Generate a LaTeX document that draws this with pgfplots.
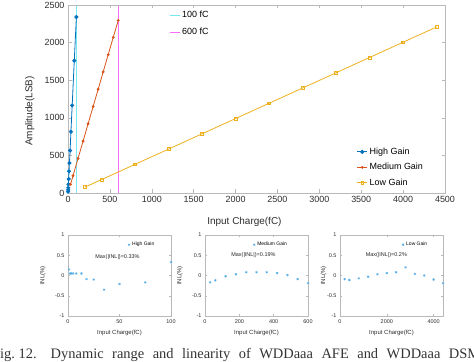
\documentclass[border=0pt]{standalone}
\usepackage{fontspec}
\setmainfont{Liberation Sans}
\newfontfamily\capfont{Liberation Serif}
\usepackage{pgfplots}
\pgfplotsset{compat=1.18}
\definecolor{mblue}{RGB}{0,114,189}
\definecolor{mred}{RGB}{217,83,25}
\definecolor{myel}{RGB}{237,177,32}
\definecolor{mcyan}{RGB}{120,232,242}
\definecolor{mmag}{RGB}{250,110,250}
\definecolor{inlc}{RGB}{77,170,230}
\definecolor{axgray}{RGB}{185,185,185}
\definecolor{tickc}{RGB}{45,45,45}
\pgfplotsset{
  lineleg/.style={legend image code/.code={\draw[mark repeat=2,mark phase=2,##1] plot coordinates {(0bp,0bp)(5bp,0bp)(10bp,0bp)};}},
  inl/.style={scale only axis, width=103bp, height=81bp, ymin=-1, ymax=1,
    ytick={-1,-0.5,0,0.5,1}, yticklabels={-1,-0.5,0,0.5,1},
    axis line style={axgray}, tick style={axgray, line width=0.4pt}, tick align=inside,
    major tick length=2bp,
    ticklabel style={font=\fontsize{5.5}{6}\selectfont, color=tickc},
    /pgf/number format/assume math mode=true, /pgf/number format/1000 sep={},
    xlabel={Input Charge(fC)}, ylabel={INL(\%)},
    label style={font=\fontsize{6}{7}\selectfont, color=tickc},
    xlabel style={at={(axis description cs:0.5,-0.21)}, anchor=center},
    legend style={draw=none, fill=none, font=\fontsize{5}{6}\selectfont, inner sep=0.5bp},
    legend image code/.code={\draw[##1] plot coordinates {(3bp,0bp)};},
  },
  inlmark/.style={only marks, mark=asterisk, mark size=1.3bp, color=inlc, line width=0.4pt},
}
\begin{document}
\begin{tikzpicture}[x=1bp,y=1bp]
% ---- vertical reference lines (own legend)
\begin{axis}[at={(68bp,169bp)}, anchor=south west, scale only axis, width=377bp, height=188bp,
  xmin=0, xmax=4500, ymin=0, ymax=2500, hide axis, lineleg,
  legend style={at={(0.265,0.984)}, anchor=north west, draw=none, fill=white,
    font=\fontsize{9}{10}\selectfont, row sep=5bp, inner sep=1bp},
  legend cell align=left]
\addplot[mcyan, line width=1.1pt] coordinates {(100,0) (100,2500)};
\addplot[mmag, line width=1.1pt] coordinates {(600,0) (600,2500)};
\legend{100 fC, 600 fC}
\end{axis}
% ---- main axis
\begin{axis}[at={(68bp,169bp)}, anchor=south west, scale only axis, width=377bp, height=188bp,
  xmin=0, xmax=4500, ymin=0, ymax=2500,
  xtick={0,500,...,4500}, ytick={0,500,...,2500},
  axis line style={axgray}, tick style={axgray, line width=0.4pt}, tick align=inside,
  major tick length=3.5bp,
  ticklabel style={font=\fontsize{9}{10}\selectfont, color=tickc},
  /pgf/number format/assume math mode=true, /pgf/number format/1000 sep={},
  xlabel={Input Charge(fC)}, ylabel={Amplitude(LSB)},
  label style={font=\fontsize{10}{11}\selectfont, color=tickc},
  xlabel style={at={(axis description cs:0.468,-0.154)}, anchor=center},
  ylabel style={at={(axis description cs:-0.101,0.436)}, anchor=center, rotate=0},
  lineleg,
  legend style={at={(0.95,0.016)}, anchor=south east, draw=none, fill=white,
    font=\fontsize{9}{10}\selectfont, row sep=3.5bp, inner sep=1bp},
  legend cell align=left]
\addplot[mblue, line width=0.8pt, mark=*, mark size=1.6bp] coordinates {
(1,17) (2,40) (3,70) (5,116) (8,186) (12,290) (17,398) (25,565) (35,815) (50,1165) (75,1760) (100,2340)};
\addplot[mred, line width=0.8pt, mark=*, mark size=1bp] coordinates {
(30,115) (60,230) (120,460) (180,690) (240,920) (300,1150) (360,1380) (420,1610) (480,1840) (540,2070) (600,2295)};
\addplot[myel, line width=0.8pt, mark=square, mark size=1.4bp, mark options={line width=0.6pt}] coordinates {
(200,78) (400,178) (800,381) (1200,584) (1600,787) (2000,990) (2400,1193) (2800,1396) (3200,1599) (3600,1802) (4000,2005) (4400,2208)};
\legend{High Gain, Medium Gain, Low Gain}
\end{axis}
% ---- INL high gain
\begin{axis}[inl, at={(68bp,46bp)}, anchor=south west, xmin=0, xmax=100, xtick={0,50,100},
  ylabel style={at={(axis description cs:-0.245,0.5)}, anchor=center},
  legend style={at={(0.575,0.945)}, anchor=north west}]
\addplot[inlmark] coordinates {
(1,0.15) (2,0.05) (3,0.05) (5,0.05) (8,0.05) (13,0.05) (18,-0.09) (25,-0.1) (35,-0.35) (50,-0.21) (75,-0.17) (100,0.33)};
\legend{High Gain}
\node[font=\fontsize{5.5}{6}\selectfont, color=black!85] at (axis description cs:0.48,0.73) {Max(|INL|)=0.33\%};
\end{axis}
% ---- INL medium gain
\begin{axis}[inl, at={(205bp,46bp)}, anchor=south west, xmin=0, xmax=600, xtick={0,200,400,600},
  ylabel style={at={(axis description cs:-0.245,0.5)}, anchor=center},
  legend style={at={(0.46,0.945)}, anchor=north west}]
\addplot[inlmark] coordinates {
(30,-0.17) (60,-0.12) (120,-0.02) (180,0.03) (240,0.08) (300,0.08) (360,0.08) (420,0.06) (480,0.01) (540,-0.09) (600,-0.19)};
\legend{Medium Gain}
\node[font=\fontsize{5.5}{6}\selectfont, color=black!85] at (axis description cs:0.47,0.75) {Max(|INL|)=0.19\%};
\end{axis}
% ---- INL low gain
\begin{axis}[inl, at={(340bp,46bp)}, anchor=south west, xmin=0, xmax=4400, xtick={0,2000,4000},
  ylabel style={at={(axis description cs:-0.16,0.5)}, anchor=center},
  legend style={at={(0.595,0.945)}, anchor=north west}]
\addplot[inlmark] coordinates {
(200,-0.09) (400,-0.11) (800,-0.07) (1200,-0.03) (1600,0.03) (2000,0.06) (2400,0.08) (2800,0.2) (3200,0.04) (3600,0.0) (4000,-0.1) (4400,-0.19)};
\legend{Low Gain}
\node[font=\fontsize{5.5}{6}\selectfont, color=black!85] at (axis description cs:0.45,0.75) {Max(|INL|)=0.2\%};
\end{axis}
% ---- caption (cut by the page edges, as in the reference)
\node[anchor=base west, inner sep=0pt, font=\capfont\fontsize{14.5}{16}\selectfont, color=black!80] at (-8bp,4bp)
  {Fig.~12.\hspace{14bp}Dynamic\hspace{8.5bp}range\hspace{8.5bp}and\hspace{8.5bp}linearity\hspace{8.5bp}of\hspace{8.5bp}WDDaaa\hspace{8.5bp}AFE\hspace{8.5bp}and\hspace{8.5bp}WDDaaa\hspace{8.5bp}DSM};
\pgfresetboundingbox
\path[use as bounding box] (0bp,0bp) rectangle (474bp,362bp);
\end{tikzpicture}
\end{document}
